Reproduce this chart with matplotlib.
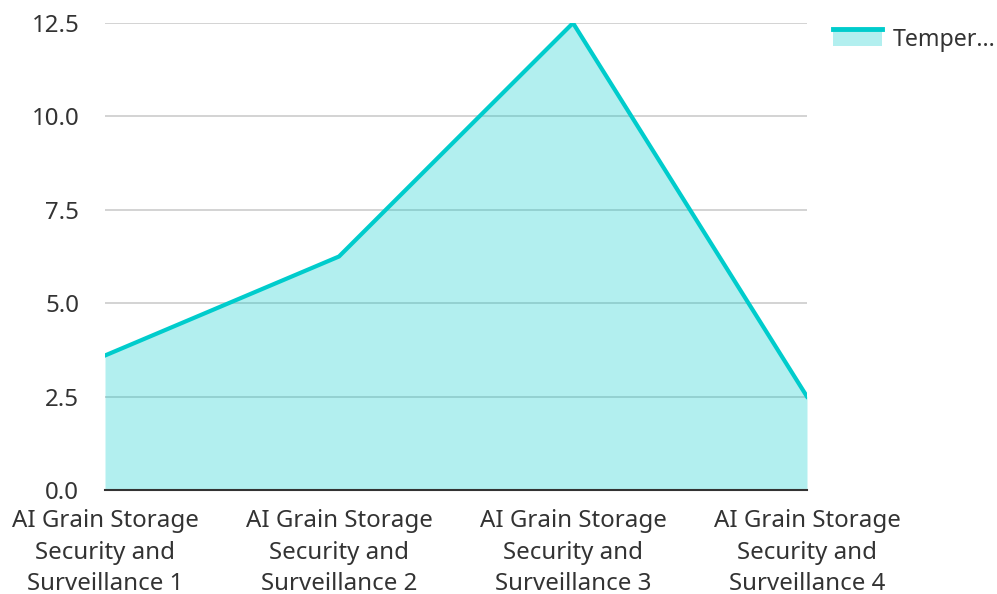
import matplotlib
matplotlib.use("Agg")
import matplotlib.pyplot as plt
from matplotlib.legend_handler import HandlerBase
from matplotlib.patches import Rectangle
from matplotlib.lines import Line2D

plt.rcParams['font.family'] = ['Noto Sans', 'DejaVu Sans']

categories = ["AI Grain Storage\nSecurity and\nSurveillance 1",
              "AI Grain Storage\nSecurity and\nSurveillance 2",
              "AI Grain Storage\nSecurity and\nSurveillance 3",
              "AI Grain Storage\nSecurity and\nSurveillance 4"]
values = [3.6, 6.25, 12.5, 2.5]
series_name = "Temper..."
yticks = [0.0, 2.5, 5.0, 7.5, 10.0, 12.5]

line_color = "#00CCCC"
text_color = "#333333"
fs = 17.3
lfs = 16.7

fig = plt.figure(figsize=(9.97, 5.94), dpi=100)
ax = fig.add_axes([105/997, 1-490/594, (807-105)/997, (490-23)/594])

x = list(range(len(categories)))
ax.fill_between(x, values, 0, color=line_color, alpha=0.3, linewidth=0, zorder=2)
ax.plot(x, values, color=line_color, linewidth=3, zorder=3, label=series_name)

ax.set_xlim(0, len(categories)-1)
ax.set_ylim(0, 12.5)
ax.set_yticks(yticks)
ax.set_yticklabels([f"{v:.1f}" for v in yticks])
ax.set_xticks(x)
ax.set_xticklabels(categories, linespacing=1.4)
ax.tick_params(axis='both', length=0, labelsize=fs, colors=text_color)
ax.tick_params(axis='y', pad=18.5)
ax.tick_params(axis='x', pad=14)
ax.grid(axis='y', color='#cccccc', linewidth=1.2, zorder=1)
ax.set_axisbelow(True)
for s in ['top', 'right', 'left']:
    ax.spines[s].set_visible(False)
ax.spines['bottom'].set_color('#333333')
ax.spines['bottom'].set_linewidth(1.5)
ax.spines['bottom'].set_zorder(4)


class AreaHandler(HandlerBase):
    def create_artists(self, legend, orig_handle, xdescent, ydescent, width, height, fontsize, trans):
        rect = Rectangle((-xdescent, -ydescent), width, height, facecolor=line_color,
                         alpha=0.3, linewidth=0, transform=trans)
        ln = Line2D([-xdescent, -xdescent + width], [-ydescent + height, -ydescent + height],
                    color=line_color, linewidth=3.5, transform=trans)
        return [rect, ln]


handle = ax.get_lines()[0]
leg = fig.legend([handle], [series_name], handler_map={Line2D: AreaHandler()},
                 loc='upper left', bbox_to_anchor=(828/997, 1-23/594), frameon=False,
                 fontsize=lfs, handlelength=2.12, handleheight=0.7, handletextpad=0.47,
                 borderpad=0.2, borderaxespad=0)
for t in leg.get_texts():
    t.set_color(text_color)

fig.savefig("out.png", dpi=100)
